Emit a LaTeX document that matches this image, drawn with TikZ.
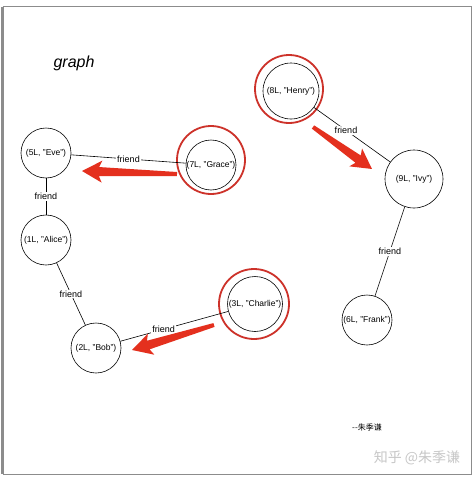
\documentclass[tikz,border=0pt]{standalone}
\usepackage{fontspec}
\setmainfont{Liberation Sans}
\newfontfamily\cjk{Noto Sans CJK SC}
\usetikzlibrary{calc}

\definecolor{arrowred}{RGB}{228,48,30}
\definecolor{ringred}{RGB}{205,50,42}
\definecolor{framegray}{RGB}{140,140,140}

% tapered red pointer, from #1 to #2
\newcommand{\fatarrow}[2]{%
	\path let \p1=($(#2)-(#1)$) in
		\pgfextra{\pgfmathparse{atan2(\y1,\x1)}\xdef\fatang{\pgfmathresult}%
			\pgfmathparse{veclen(\x1,\y1)}\xdef\fatlen{\pgfmathresult}};
	\begin{scope}[shift={(#1)}, rotate=\fatang]
		\fill[arrowred] (0pt,-2pt) -- (\fatlen pt-17pt,-4.5pt) -- (\fatlen pt-20pt,-11pt)
			-- (\fatlen pt,0pt) -- (\fatlen pt-20pt,11pt) -- (\fatlen pt-17pt,4.5pt)
			-- (0pt,2pt) -- cycle;
	\end{scope}}

\begin{document}
\begin{tikzpicture}[
	x=1pt,
	y=-1pt,
	person/.style={
		circle,
		draw=black,
		line width=0.6pt,
		align=center,
		inner sep=0pt,
		font=\fontsize{8.5}{10}\selectfont,
		minimum size=50pt
	},
	bigperson/.style={
		person,
		minimum size=56pt
	},
	ring/.style={
		circle,
		draw=ringred,
		line width=1.8pt,
		inner sep=0pt,
		minimum size=68pt
	},
	rel/.style={
		fill=white,
		inner sep=1pt,
		font=\fontsize{9}{10}\selectfont
	},
	link/.style={
		line width=0.6pt,
		draw=black
	}
]

\useasboundingbox (0,0) rectangle (474,479);
\fill[white] (0,0) rectangle (474,479);
\draw[framegray, line width=1pt] (3,6.5) rectangle (471,474);
\draw[framegray, line width=2.5pt] (2,6.5) -- (2,474);

\node[font=\fontsize{16}{18}\selectfont\itshape] (title) at (74,63) {graph};

% highlighted vertices
\node[ring] (ring_grace) at (211,160) {};
\node[ring] (ring_henry) at (289,89) {};
\node[ring, minimum size=70pt] (ring_charlie) at (254,304) {};

\node[person] (eve) at (46,153) {(5L, "Eve")};
\node[person] (alice) at (46,240) {(1L, "Alice")};
\node[person] (bob) at (96,348) {(2L, "Bob")};
\node[person] (grace) at (211,165) {(7L, "Grace")};
\node[bigperson] (henry) at (291,91) {(8L, "Henry")};
\node[person, minimum size=55pt] (charlie) at (255,304) {(3L, "Charlie")};
\node[bigperson, minimum size=58pt] (ivy) at (414,179) {(9L, "Ivy")};
\node[person] (frank) at (367,320) {(6L, "Frank")};

\draw[link] (eve) -- node[rel] {friend} (grace);
\draw[link] (eve) -- node[rel] {friend} (alice);
\draw[link] (alice) -- node[rel] {friend} (bob);
\draw[link] (bob) -- node[rel, pos=0.4] {friend} (charlie);
\draw[link] (henry) -- node[rel, pos=0.42] {friend} (ivy);
\draw[link] (ivy) -- node[rel] {friend} (frank);

% red pointers
\coordinate (grace_tail) at (177,174);
\coordinate (grace_tip) at (82,171);
\coordinate (henry_tail) at (313,127);
\coordinate (henry_tip) at (372,169);
\coordinate (charlie_tail) at (214,325);
\coordinate (charlie_tip) at (132,350);
\fatarrow{grace_tail}{grace_tip}
\fatarrow{henry_tail}{henry_tip}
\fatarrow{charlie_tail}{charlie_tip}

\node[font=\cjk\fontsize{8}{10}\selectfont] (sign) at (367,427) {--朱季谦};
\node[font=\cjk\fontsize{14}{16}\selectfont, text=black!22] (mark) at (417,458) {知乎 @朱季谦};

\end{tikzpicture}
\end{document}
